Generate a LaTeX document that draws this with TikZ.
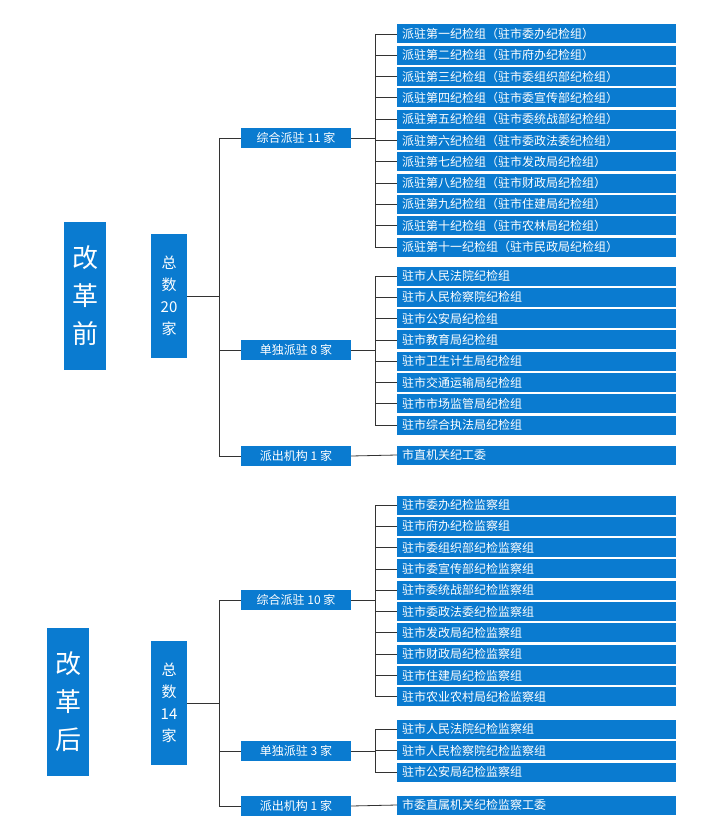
\documentclass[tikz,border=0pt]{standalone}
\usepackage{fontspec}
\newfontfamily\cjk{Noto Sans CJK SC}
\definecolor{bb}{HTML}{0A7BD0}
\begin{document}
\begin{tikzpicture}[x=1pt,y=-1pt,
  leaf/.style={fill=bb,minimum width=279pt,minimum height=19pt,text=white,font=\cjk\fontsize{12}{12}\selectfont,inner sep=0pt,text width=269pt,align=left,anchor=west},
  mid/.style={fill=bb,minimum width=110pt,minimum height=20pt,text=white,font=\cjk\fontsize{12}{12}\selectfont,inner sep=0pt},
  big/.style={fill=bb,minimum width=42pt,minimum height=148pt,text=white,font=\cjk\fontsize{26}{38}\selectfont,align=center,inner sep=0pt},
  tot/.style={fill=bb,minimum width=36pt,minimum height=124pt,text=white,font=\cjk\fontsize{15}{22}\selectfont,align=center,inner sep=0pt},
  ln/.style={draw=black!80,line width=0.8pt}]
\useasboundingbox (0,0) rectangle (711,821);
% ===== before
\node[big] (A) at (85,296) {改\\革\\前};
\node[tot] (T1) at (169,296) {总\\数\\20\\家};
\node[mid] (m1) at (296,138) {综合派驻 11 家};
\node[mid] (m2) at (296,350) {单独派驻 8 家};
\node[mid] (m3) at (296,456) {派出机构 1 家};
\coordinate (j1) at (219,296);
\draw[ln] (T1.east) -- (j1);
\draw[ln] (219,138) -- (219,456);
\foreach \m in {m1,m2,m3} \draw[ln] (219,0 |- \m) -- (\m.west);
\foreach \t [count=\i] in {派驻第一纪检组（驻市委办纪检组）,派驻第二纪检组（驻市府办纪检组）,派驻第三纪检组（驻市委组织部纪检组）,派驻第四纪检组（驻市委宣传部纪检组）,派驻第五纪检组（驻市委统战部纪检组）,派驻第六纪检组（驻市委政法委纪检组）,派驻第七纪检组（驻市发改局纪检组）,派驻第八纪检组（驻市财政局纪检组）,派驻第九纪检组（驻市住建局纪检组）,派驻第十纪检组（驻市农林局纪检组）,派驻第十一纪检组（驻市民政局纪检组）}
{ \node[leaf] (a\i) at (397,{34+(\i-1)*21.3}) {\t}; \draw[ln] (375,0 |- a\i) -- (a\i.west); }
\draw[ln] (m1.east) -- (375,138); \draw[ln] (375,0 |- a1) -- (375,0 |- a11);
\foreach \t [count=\i] in {驻市人民法院纪检组,驻市人民检察院纪检组,驻市公安局纪检组,驻市教育局纪检组,驻市卫生计生局纪检组,驻市交通运输局纪检组,驻市市场监管局纪检组,驻市综合执法局纪检组}
{ \node[leaf] (b\i) at (397,{276+(\i-1)*21.3}) {\t}; \draw[ln] (375,0 |- b\i) -- (b\i.west); }
\draw[ln] (m2.east) -- (375,350); \draw[ln] (375,0 |- b1) -- (375,0 |- b8);
\node[leaf] (c1) at (397,455) {市直机关纪工委};
\draw[ln] (m3.east) -- (c1.west);
% ===== after
\node[big] (B) at (68,702) {改\\革\\后};
\node[tot] (T2) at (169,703) {总\\数\\14\\家};
\node[mid] (n1) at (296,600) {综合派驻 10 家};
\node[mid] (n2) at (296,751) {单独派驻 3 家};
\node[mid] (n3) at (296,806) {派出机构 1 家};
\draw[ln] (T2.east) -- (219,703);
\draw[ln] (219,600) -- (219,806);
\foreach \m in {n1,n2,n3} \draw[ln] (219,0 |- \m) -- (\m.west);
\foreach \t [count=\i] in {驻市委办纪检监察组,驻市府办纪检监察组,驻市委组织部纪检监察组,驻市委宣传部纪检监察组,驻市委统战部纪检监察组,驻市委政法委纪检监察组,驻市发改局纪检监察组,驻市财政局纪检监察组,驻市住建局纪检监察组,驻市农业农村局纪检监察组}
{ \node[leaf] (d\i) at (397,{505+(\i-1)*21.3}) {\t}; \draw[ln] (375,0 |- d\i) -- (d\i.west); }
\draw[ln] (n1.east) -- (375,600); \draw[ln] (375,0 |- d1) -- (375,0 |- d10);
\foreach \t [count=\i] in {驻市人民法院纪检监察组,驻市人民检察院纪检监察组,驻市公安局纪检监察组}
{ \node[leaf] (e\i) at (397,{729+(\i-1)*21.5}) {\t}; \draw[ln] (375,0 |- e\i) -- (e\i.west); }
\draw[ln] (n2.east) -- (375,751); \draw[ln] (375,0 |- e1) -- (375,0 |- e3);
\node[leaf] (f1) at (397,805) {市委直属机关纪检监察工委};
\draw[ln] (n3.east) -- (f1.west);
\end{tikzpicture}
\end{document}
